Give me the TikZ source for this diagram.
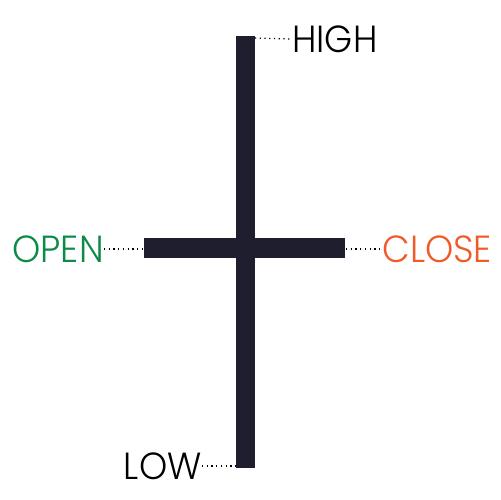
\documentclass[tikz,border=0pt]{standalone}
\usepackage{fontspec}
\setmainfont{Poppins}[UprightFont=* Light,FakeStretch=0.95]
\definecolor{barc}{HTML}{1F1E2F}
\definecolor{openc}{HTML}{0E8A48}
\definecolor{closec}{HTML}{F05A28}
\begin{document}
\begin{tikzpicture}[x=0.02cm,y=-0.02cm,
  bar/.style={fill=barc,draw=none,inner sep=0,outer sep=0},
  lbl/.style={font=\fontsize{21.5}{24}\selectfont,inner sep=0},
  lead/.style={line width=0.7pt,dotted}]
\useasboundingbox (0,0) rectangle (500,500);
\node[bar,minimum width=0.38cm,minimum height=8.64cm] (vbar) at (245.5,252) {};
\node[bar,minimum width=4.02cm,minimum height=0.4cm] (hbar) at (244.5,248) {};
\node[lbl,anchor=west] (high) at (292,39) {HIGH};
\node[lbl,anchor=east,text=openc] (open) at (104,249) {OPEN};
\node[lbl,anchor=west,text=closec] (close) at (382,249) {CLOSE};
\node[lbl,anchor=east] (low) at (202,466) {LOW};
\coordinate (hi) at (255,38);
\coordinate (oe) at (143,249);
\coordinate (ce) at (346,249);
\coordinate (lo) at (236,466);
\draw[lead] (hi) -- (high.west);
\draw[lead] (open.east) -- (oe);
\draw[lead] (ce) -- (close.west);
\draw[lead] (low.east) -- (lo);
\end{tikzpicture}
\end{document}
